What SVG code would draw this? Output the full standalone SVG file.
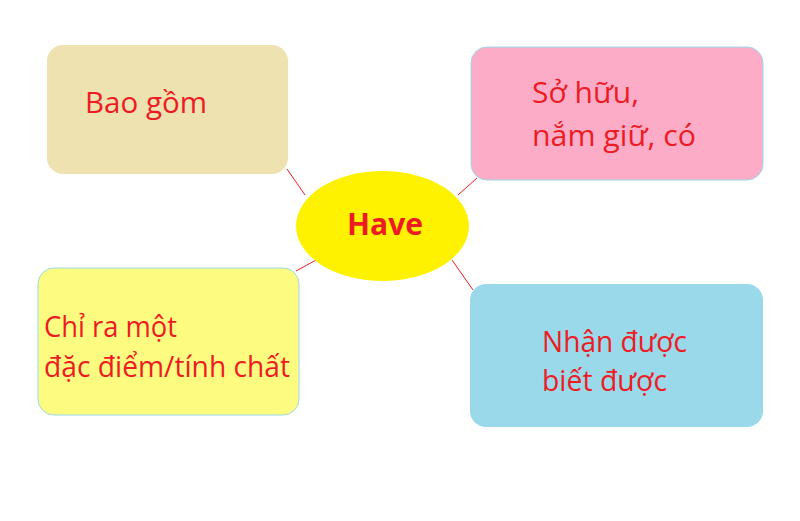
<svg xmlns="http://www.w3.org/2000/svg" width="800" height="521" viewBox="0 0 800 521">
<style>
.t{font-family:"Open Sans","Noto Sans","DejaVu Sans",sans-serif;font-size:29px;fill:#ED1C24;}
.c{stroke:#ED1C24;stroke-width:1;fill:none;}
</style>
<rect width="800" height="521" fill="#FFFFFF"/>
<g id="connectors">
<line class="c" x1="287" y1="169" x2="305" y2="195"/>
<line class="c" x1="458" y1="195" x2="477" y2="178"/>
<line class="c" x1="296" y1="271" x2="318" y2="259"/>
<line class="c" x1="452" y1="260" x2="473" y2="290"/>
</g>
<g id="node-bao-gom">
<rect x="47" y="45" width="241" height="129" rx="16" fill="#EEE2B0"/>
<text class="t" x="85" y="113" textLength="122" lengthAdjust="spacingAndGlyphs">Bao gồm</text>
</g>
<g id="node-so-huu">
<rect x="471" y="47" width="292" height="133" rx="16" fill="#FDACC8" stroke="#99D9EA" stroke-width="1"/>
<text class="t" x="532" y="103" textLength="107" lengthAdjust="spacingAndGlyphs">Sở hữu,</text>
<text class="t" x="532" y="146" textLength="164" lengthAdjust="spacingAndGlyphs">nắm giữ, có</text>
</g>
<g id="node-chi-ra">
<rect x="38" y="268" width="261" height="147" rx="16" fill="#FEFB81" stroke="#99D9EA" stroke-width="1"/>
<text class="t" x="44" y="337" textLength="133" lengthAdjust="spacingAndGlyphs">Chỉ ra một</text>
<text class="t" x="44" y="377" textLength="246" lengthAdjust="spacingAndGlyphs">đặc điểm/tính chất</text>
</g>
<g id="node-nhan-duoc">
<rect x="470" y="284" width="293" height="143" rx="16" fill="#99D9EA"/>
<text class="t" x="542" y="352" textLength="145" lengthAdjust="spacingAndGlyphs">Nhận được</text>
<text class="t" x="542" y="391" textLength="125" lengthAdjust="spacingAndGlyphs">biết được</text>
</g>
<g id="node-have">
<ellipse cx="382.5" cy="226" rx="86.5" ry="55" fill="#FFF200"/>
<text class="t" x="347" y="235" font-weight="bold" textLength="76" lengthAdjust="spacingAndGlyphs" style="font-size:31px">Have</text>
</g>
</svg>
